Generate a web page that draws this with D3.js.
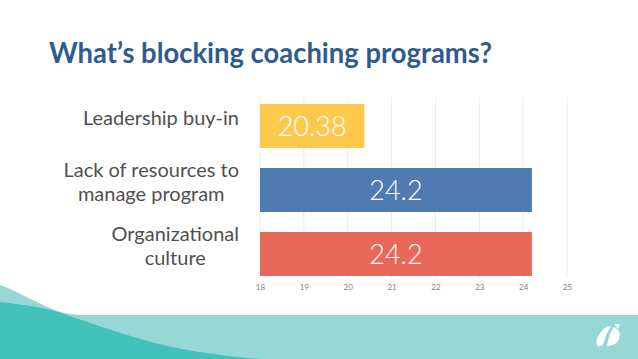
<!DOCTYPE html>
<html>
<head>
<meta charset="utf-8">
<script src="https://cdn.jsdelivr.net/npm/d3@7"></script>
<style>
  html, body { margin: 0; padding: 0; background: #fff; }
  svg { display: block; }
</style>
</head>
<body>
<svg width="638" height="359"></svg>
<script>
// chart data
const categories = ["Leadership buy-in", "Lack of resources to\nmanage program", "Organizational\nculture"];
const values = [20.38, 24.2, 24.2];
const labels = ["20.38", "24.2", "24.2"];
const barColors = ["#fdc94c", "#4f7bb0", "#e8695a"];
const ticks = [18, 19, 20, 21, 22, 23, 24, 25];

const svg = d3.select("svg");

// bottom decoration
svg.append("path")
    .attr("fill", "#97d7d6")
    .attr("d", "M0,285 C20,292 38,304 55,310 C65,314 75,315 90,315 L638,315 L638,359 L0,359 Z");
svg.append("path")
    .attr("fill", "#43c2bb")
    .attr("d", "M0,302 C20,304 40,307 55,311 C100,326 150,345 200,352 C225,356 245,358 262,359 L0,359 Z");

// logo
const logo = svg.append("g").attr("fill", "#fff");
logo.append("path")
    .attr("d", "M605,328 C599,333 595,340 597,345 C599,348 603,346 604,342 C605,337 607,332 611,327 C609,326 607,326 605,328 Z");
logo.append("path")
    .attr("d", "M614,327 C619,329 621,334 619,339 C617,344 612,346 607,346 C608,339 610,332 614,327 Z");
logo.append("path")
    .attr("d", "M614,324 L620,324 L618,329 Z");

// title
svg.append("text")
    .attr("x", 49)
    .attr("y", 63)
    .attr("fill", "#2f5b8e")
    .style("font-family", "Lato, 'Open Sans', sans-serif")
    .style("font-weight", "bold")
    .style("font-size", "28px")
    .attr("textLength", 443)
    .attr("lengthAdjust", "spacingAndGlyphs")
    .text("What\u2019s blocking coaching programs?");

const x = d3.scaleLinear().domain([18, 25]).range([260, 567]);
const y = d3.scaleBand().domain(categories).range([104, 276]).paddingInner(0.3125).paddingOuter(0);

// gridlines
svg.append("g")
  .selectAll("line")
  .data(ticks)
  .join("line")
    .attr("x1", d => x(d)).attr("x2", d => x(d))
    .attr("y1", 97).attr("y2", 278)
    .attr("stroke", "#e6e6e6")
    .attr("stroke-width", 0.8);

// x axis
const xAxis = svg.append("g")
    .attr("transform", "translate(0,281)")
    .call(d3.axisBottom(x).tickValues(ticks).tickFormat(d3.format("d")).tickSize(0).tickPadding(3));
xAxis.select(".domain").remove();
xAxis.selectAll("text")
    .attr("fill", "#7f7f7f")
    .style("font-family", "Lato, sans-serif")
    .style("font-size", "8px");

// bars
svg.append("g")
  .selectAll("rect")
  .data(values)
  .join("rect")
    .attr("x", x(18))
    .attr("y", (d, i) => y(categories[i]))
    .attr("width", d => x(d) - x(18))
    .attr("height", y.bandwidth())
    .attr("fill", (d, i) => barColors[i]);

// value labels
svg.append("g")
  .selectAll("text")
  .data(values)
  .join("text")
    .attr("x", d => (x(18) + x(d)) / 2)
    .attr("y", (d, i) => y(categories[i]) + y.bandwidth() / 2 + 10)
    .attr("text-anchor", "middle")
    .attr("fill", "#fff")
    .style("font-family", "Lato, sans-serif")
    .style("font-weight", 300)
    .style("font-size", "27px")
    .text((d, i) => labels[i]);

// category labels: lines centred on each other, block right aligned
const catG = svg.append("g")
    .style("font-family", "Lato, sans-serif")
    .style("font-size", "20px")
    .attr("fill", "#505050");

categories.forEach((c, i) => {
  const lines = c.split("\n");
  const cy = y(c) + y.bandwidth() / 2;
  const t = catG.append("text").attr("text-anchor", "middle");
  lines.forEach((l, j) => {
    t.append("tspan")
      .attr("y", lines.length === 1 ? cy - 1 : cy - 13 + j * 24)
      .text(l);
  });
  // widest line decides where the block sits, right edge at 239
  const spans = t.selectAll("tspan").nodes();
  const w = d3.max(spans, s => s.getComputedTextLength());
  spans.forEach(s => s.setAttribute("x", 239 - w / 2));
});
</script>
</body>
</html>
